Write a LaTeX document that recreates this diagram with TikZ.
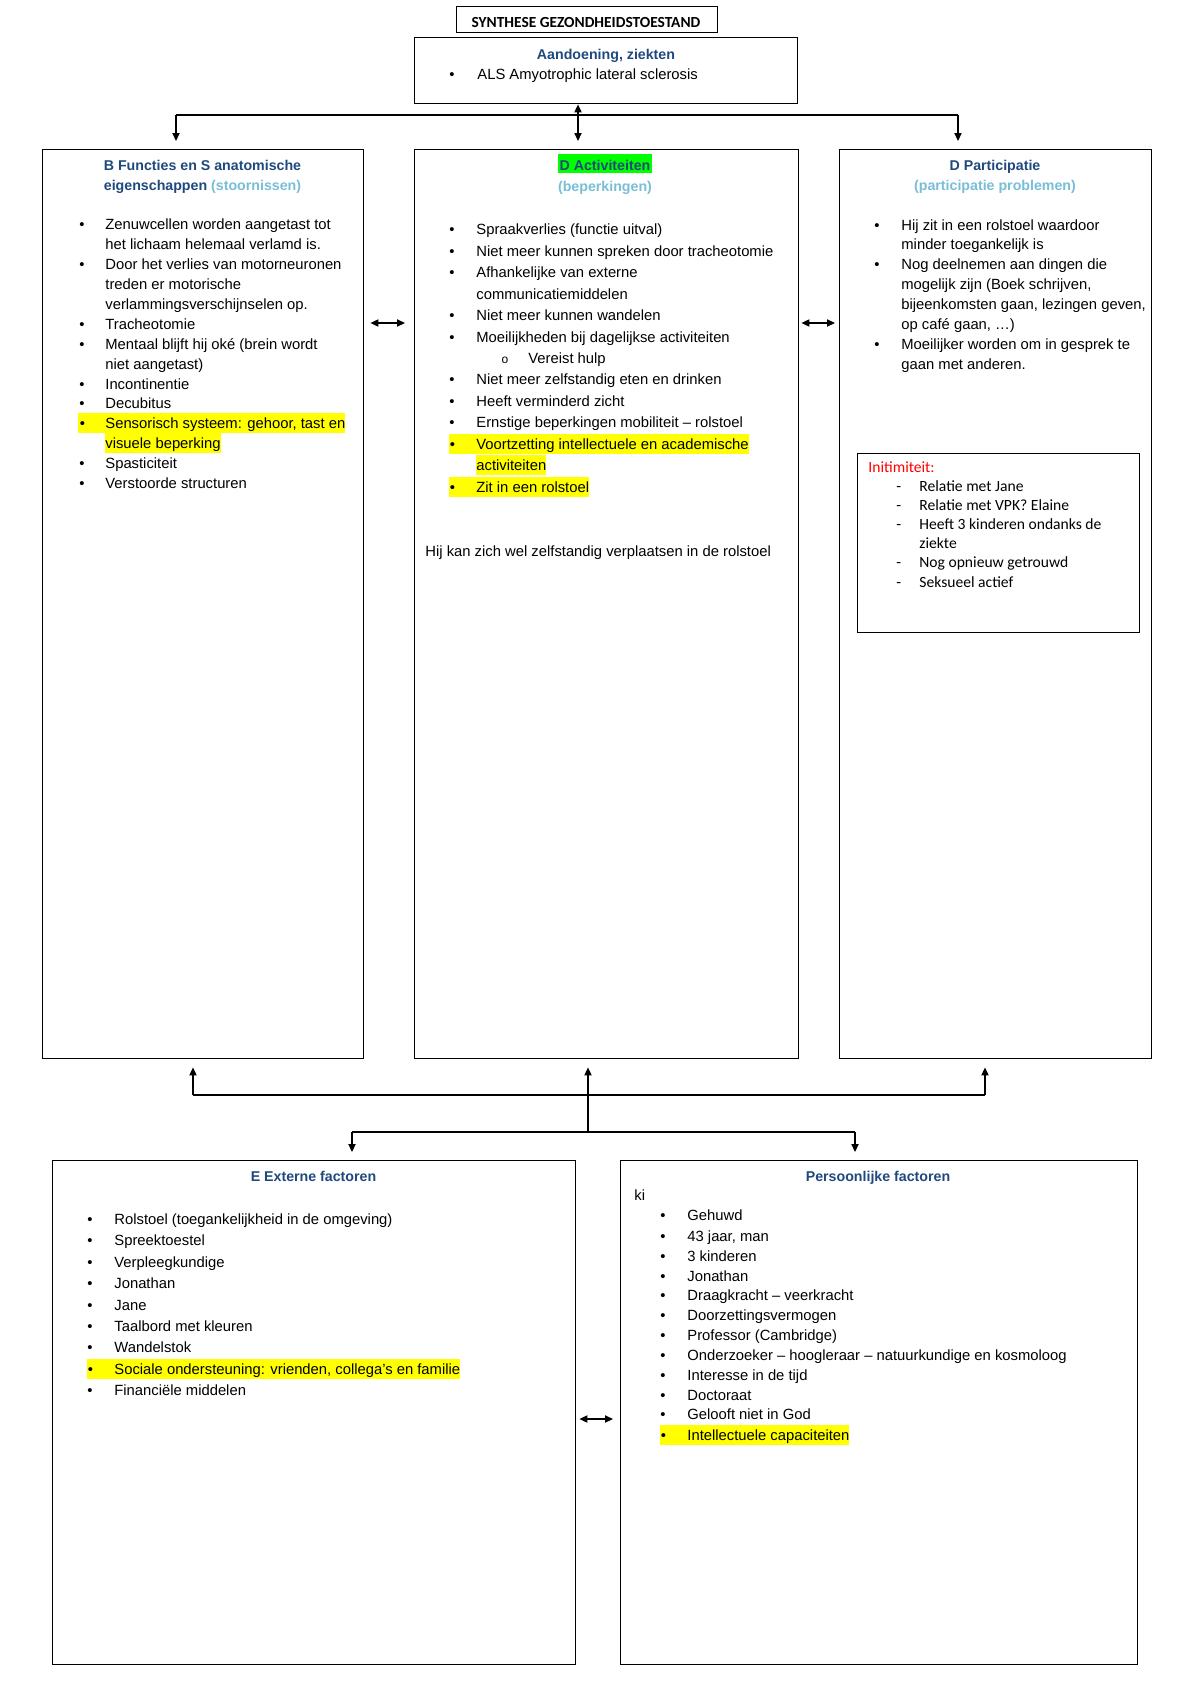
\documentclass[tikz,border=0pt]{standalone}
\usepackage{fontspec}
\setmainfont{Liberation Sans}
\newfontfamily\calib{Carlito}
\usetikzlibrary{arrows.meta}
\definecolor{dkblue}{RGB}{31,73,125}
\definecolor{ltblue}{RGB}{120,190,215}
\definecolor{hlgreen}{RGB}{0,255,0}
\definecolor{hlyellow}{RGB}{255,255,0}
\newcommand\fs{\fontsize{7.4pt}{9pt}\selectfont}
\newcommand\hdf{\fontsize{7.1pt}{9pt}\selectfont\bfseries}
\newcommand\cbf{\fontsize{7.8pt}{9pt}\selectfont\calib}
\newcommand\hlbul[2]{\makebox[#2][l]{\makebox[#1][c]{•}}}
\tikzset{
  box/.style={draw, line width=0.7pt, inner sep=0pt, anchor=north west},
  tx/.style={anchor=base west, inner sep=0pt, font=\fs},
  bu/.style={anchor=base, inner sep=0pt, font=\fs},
  hd/.style={anchor=base, inner sep=0pt, font=\hdf, text=dkblue},
  hl/.style={fill=hlyellow, text height=7.7pt, text depth=2.3pt},
  cb/.style={anchor=base west, inner sep=0pt, font=\cbf},
  conn/.style={line width=0.6pt},
  arr/.style={conn, -{Triangle[length=4pt,width=3.6pt]}},
  dbl/.style={conn, {Triangle[length=4pt,width=3.6pt]}-{Triangle[length=4pt,width=3.6pt]}},
}
\begin{document}
\begin{tikzpicture}[x=0.5pt,y=-0.5pt]
\useasboundingbox (0,0) rectangle (1200,1697);

% ---------- boxes ----------
\node[box, minimum width=130.5pt, minimum height=13pt] (title) at (456,6) {};
\node[box, minimum width=191.5pt, minimum height=33pt] (aand) at (414,37) {};
\node[box, minimum width=160.5pt, minimum height=454.5pt] (left) at (42,149) {};
\node[box, minimum width=192pt, minimum height=454.5pt] (mid) at (414,149) {};
\node[box, minimum width=156pt, minimum height=454.5pt] (right) at (839,149) {};
\node[box, minimum width=141pt, minimum height=89.5pt] (inner) at (857,453) {};
\node[box, minimum width=261.5pt, minimum height=252pt] (ext) at (52,1160) {};
\node[box, minimum width=258.5pt, minimum height=252pt] (pers) at (620,1160) {};

% ---------- title & Aandoening ----------
\node[anchor=base, inner sep=0pt, font=\fontsize{7.7pt}{9pt}\selectfont\calib\bfseries] (tt) at (586,27) {SYNTHESE GEZONDHEIDSTOESTAND};
\node[hd] (ah) at (606,59) {Aandoening, ziekten};
\node[bu] (ab) at (452,79) {•};
\node[tx] (at) at (477,79) {ALS Amyotrophic lateral sclerosis};

% ---------- left box ----------
\node[hd] (lh1) at (202.5,170) {B Functies en S anatomische};
\node[hd] (lh2) at (202.5,190) {eigenschappen \textcolor{ltblue}{(stoornissen)}};
\node[bu] (lb1) at (82,229) {•};  \node[tx] (lt1) at (105,229) {Zenuwcellen worden aangetast tot};
\node[tx] (lt2) at (105,249) {het lichaam helemaal verlamd is.};
\node[bu] (lb3) at (82,269) {•};  \node[tx] (lt3) at (105,269) {Door het verlies van motorneuronen};
\node[tx] (lt4) at (105,289) {treden er motorische};
\node[tx] (lt5) at (105,309) {verlammingsverschijnselen op.};
\node[bu] (lb6) at (82,329) {•};  \node[tx] (lt6) at (105,329) {Tracheotomie};
\node[bu] (lb7) at (82,349) {•};  \node[tx] (lt7) at (105,349) {Mentaal blijft hij oké (brein wordt};
\node[tx] (lt8) at (105,369) {niet aangetast)};
\node[bu] (lb9) at (82,389) {•};  \node[tx] (lt9) at (105,389) {Incontinentie};
\node[bu] (lb10) at (82,408) {•}; \node[tx] (lt10) at (105,408) {Decubitus};
\node[tx,hl] (lb11) at (78,428) {\hlbul{4pt}{13.5pt}};
\node[tx,hl] (lt11) at (105,428) {Sensorisch systeem: gehoor, tast en};
\node[tx,hl] (lt12) at (105,448) {visuele beperking};
\node[bu] (lb13) at (82,468) {•}; \node[tx] (lt13) at (105,468) {Spasticiteit};
\node[bu] (lb14) at (82,488) {•}; \node[tx] (lt14) at (105,488) {Verstoorde structuren};

% ---------- middle box ----------
\node[hd, fill=hlgreen, inner xsep=1pt, text height=8pt, text depth=1.5pt] (mh1) at (605,170) {D Activiteiten};
\node[hd, text=ltblue] (mh2) at (605,191) {(beperkingen)};
\node[bu] (mb1) at (452,234) {•};  \node[tx] (mt1) at (476,234) {Spraakverlies (functie uitval)};
\node[bu] (mb2) at (452,256) {•};  \node[tx] (mt2) at (476,256) {Niet meer kunnen spreken door tracheotomie};
\node[bu] (mb3) at (452,277) {•};  \node[tx] (mt3) at (476,277) {Afhankelijke van externe};
\node[tx] (mt4) at (476,299) {communicatiemiddelen};
\node[bu] (mb5) at (452,320) {•};  \node[tx] (mt5) at (476,320) {Niet meer kunnen wandelen};
\node[bu] (mb6) at (452,342) {•};  \node[tx] (mt6) at (476,342) {Moeilijkheden bij dagelijkse activiteiten};
\node[bu, font=\fontsize{6pt}{7pt}\selectfont] (mb7) at (505,363) {o}; \node[tx] (mt7) at (528,363) {Vereist hulp};
\node[bu] (mb8) at (452,384) {•};  \node[tx] (mt8) at (476,384) {Niet meer zelfstandig eten en drinken};
\node[bu] (mb9) at (452,406) {•};  \node[tx] (mt9) at (476,406) {Heeft verminderd zicht};
\node[bu] (mb10) at (452,427) {•}; \node[tx] (mt10) at (476,427) {Ernstige beperkingen mobiliteit – rolstoel};
\node[tx,hl] (mb11) at (449,449) {\hlbul{3pt}{13.5pt}};
\node[tx,hl] (mt11) at (476,449) {Voortzetting intellectuele en academische};
\node[tx,hl] (mt12) at (476,470) {activiteiten};
\node[tx,hl] (mb13) at (449,492) {\hlbul{3pt}{13.5pt}};
\node[tx,hl] (mt13) at (476,492) {Zit in een rolstoel};
\node[tx] (mt14) at (425,556) {Hij kan zich wel zelfstandig verplaatsen in de rolstoel};

% ---------- right box ----------
\node[hd] (rh1) at (995,170) {D Participatie};
\node[hd, text=ltblue] (rh2) at (995,190) {(participatie problemen)};
\node[bu] (rb1) at (877,230) {•}; \node[tx] (rt1) at (901,230) {Hij zit in een rolstoel waardoor};
\node[tx] (rt2) at (901,249) {minder toegankelijk is};
\node[bu] (rb3) at (877,269) {•}; \node[tx] (rt3) at (901,269) {Nog deelnemen aan dingen die};
\node[tx] (rt4) at (901,289) {mogelijk zijn (Boek schrijven,};
\node[tx] (rt5) at (901,309) {bijeenkomsten gaan, lezingen geven,};
\node[tx] (rt6) at (901,329) {op café gaan, …)};
\node[bu] (rb7) at (877,349) {•}; \node[tx] (rt7) at (901,349) {Moeilijker worden om in gesprek te};
\node[tx] (rt8) at (901,369) {gaan met anderen.};

% inner box
\node[cb, text=red] (ih) at (868,472) {Initimiteit:};
\node[cb] (id1) at (896,491) {-}; \node[cb] (it1) at (919,491) {Relatie met Jane};
\node[cb] (id2) at (896,510) {-}; \node[cb] (it2) at (919,510) {Relatie met VPK? Elaine};
\node[cb] (id3) at (896,529) {-}; \node[cb] (it3) at (919,529) {Heeft 3 kinderen ondanks de};
\node[cb] (it4) at (919,548) {ziekte};
\node[cb] (id5) at (896,567) {-}; \node[cb] (it5) at (919,567) {Nog opnieuw getrouwd};
\node[cb] (id6) at (896,587) {-}; \node[cb] (it6) at (919,587) {Seksueel actief};

% ---------- external factors ----------
\node[hd] (eh) at (313.5,1181) {E Externe factoren};
\node[bu] (eb1) at (90,1224) {•}; \node[tx] (et1) at (114,1224) {Rolstoel (toegankelijkheid in de omgeving)};
\node[bu] (eb2) at (90,1245) {•}; \node[tx] (et2) at (114,1245) {Spreektoestel};
\node[bu] (eb3) at (90,1267) {•}; \node[tx] (et3) at (114,1267) {Verpleegkundige};
\node[bu] (eb4) at (90,1288) {•}; \node[tx] (et4) at (114,1288) {Jonathan};
\node[bu] (eb5) at (90,1310) {•}; \node[tx] (et5) at (114,1310) {Jane};
\node[bu] (eb6) at (90,1331) {•}; \node[tx] (et6) at (114,1331) {Taalbord met kleuren};
\node[bu] (eb7) at (90,1352) {•}; \node[tx] (et7) at (114,1352) {Wandelstok};
\node[tx,hl] (eb8) at (87,1374) {\hlbul{3pt}{13.5pt}};
\node[tx,hl] (et8) at (114,1374) {Sociale ondersteuning: vrienden, collega’s en familie};
\node[bu] (eb9) at (90,1395) {•}; \node[tx] (et9) at (114,1395) {Financiële middelen};

% ---------- personal factors ----------
\node[hd] (ph) at (878,1181) {Persoonlijke factoren};
\node[tx] (pk) at (634,1200) {ki};
\node[bu] (pb1) at (663,1220) {•};  \node[tx] (pt1) at (687,1220) {Gehuwd};
\node[bu] (pb2) at (663,1241) {•};  \node[tx] (pt2) at (687,1241) {43 jaar, man};
\node[bu] (pb3) at (663,1261) {•};  \node[tx] (pt3) at (687,1261) {3 kinderen};
\node[bu] (pb4) at (663,1281) {•};  \node[tx] (pt4) at (687,1281) {Jonathan};
\node[bu] (pb5) at (663,1300) {•};  \node[tx] (pt5) at (687,1300) {Draagkracht – veerkracht};
\node[bu] (pb6) at (663,1320) {•};  \node[tx] (pt6) at (687,1320) {Doorzettingsvermogen};
\node[bu] (pb7) at (663,1340) {•};  \node[tx] (pt7) at (687,1340) {Professor (Cambridge)};
\node[bu] (pb8) at (663,1360) {•};  \node[tx] (pt8) at (687,1360) {Onderzoeker – hoogleraar – natuurkundige en kosmoloog};
\node[bu] (pb9) at (663,1380) {•};  \node[tx] (pt9) at (687,1380) {Interesse in de tijd};
\node[bu] (pb10) at (663,1400) {•}; \node[tx] (pt10) at (687,1400) {Doctoraat};
\node[bu] (pb11) at (663,1419) {•}; \node[tx] (pt11) at (687,1419) {Gelooft niet in God};
\node[tx,hl] (pb12) at (660,1440) {\hlbul{3pt}{13.5pt}};
\node[tx,hl] (pt12) at (687,1440) {Intellectuele capaciteiten};

% ---------- connectors ----------
\coordinate (tl) at (176,115);
\coordinate (tm) at (578,115);
\coordinate (tr) at (958,115);
\draw[conn] (tl) -- (tr);
\draw[arr, shorten >=4pt] (tl) -- (tl |- left.north);
\draw[arr, shorten >=4pt] (tr) -- (tr |- right.north);
\draw[dbl, shorten >=4pt] (aand.south -| tm) -- (mid.north -| tm);

\coordinate (ha) at (0,323);
\draw[dbl, shorten <=3pt, shorten >=4.5pt] (left.east |- ha) -- (mid.west |- ha);
\draw[dbl, shorten <=1pt, shorten >=2pt] (mid.east |- ha) -- (right.west |- ha);

\coordinate (bl) at (193,1095);
\coordinate (br) at (985,1095);
\coordinate (bm) at (588,1132);
\coordinate (ll) at (352,1132);
\coordinate (lr) at (855,1132);
\draw[conn] (bl) -- (br);
\draw[arr, shorten >=4pt] (bl) -- (bl |- left.south);
\draw[arr, shorten >=4pt] (br) -- (br |- right.south);
\draw[arr, shorten >=4pt] (bm) -- (bm |- mid.south);
\draw[conn] (ll) -- (lr);
\draw[arr, shorten >=4pt] (ll) -- (ll |- ext.north);
\draw[arr, shorten >=4pt] (lr) -- (lr |- pers.north);

\coordinate (hb) at (0,1419);
\draw[dbl, shorten <=1.5pt, shorten >=3.5pt] (ext.east |- hb) -- (pers.west |- hb);
\end{tikzpicture}
\end{document}
